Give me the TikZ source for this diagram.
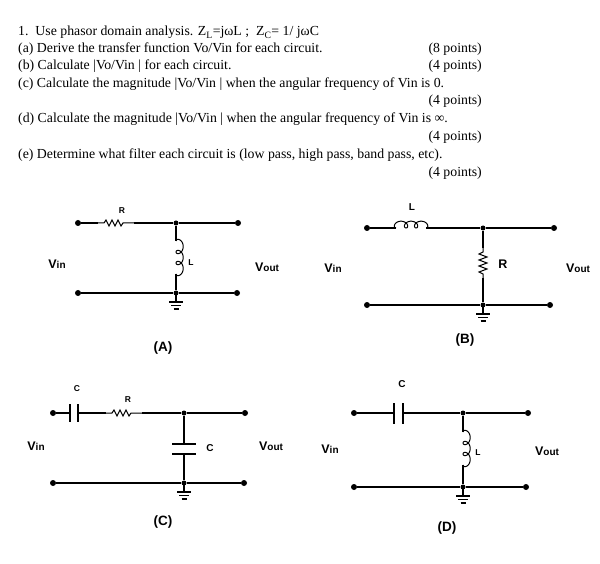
\documentclass[tikz,border=0pt]{standalone}
\usepackage{fontspec}
\setmainfont{Liberation Serif}
\newfontfamily\lab{Liberation Sans}
\begin{document}
\begin{tikzpicture}[x=1pt,y=-1pt,
  wire/.style={line width=1.3pt},
  comp/.style={line width=1pt},
  term/.style={circle,fill=black,inner sep=0pt,minimum size=6pt},
  jn/.style={circle,fill=black,inner sep=0pt,minimum size=5pt},
  txt/.style={anchor=base west,inner sep=0pt,font=\fontsize{13.8}{15}\selectfont},
  pts/.style={anchor=base east,inner sep=0pt,font=\fontsize{13.8}{15}\selectfont},
  clab/.style={inner sep=0pt,font=\lab\bfseries\fontsize{12.5}{14}\selectfont},
  small/.style={inner sep=0pt,font=\lab\bfseries\fontsize{8.5}{9}\selectfont},
  title/.style={inner sep=0pt,font=\lab\bfseries\fontsize{13.5}{15}\selectfont},
  resh/.pic={\draw[comp] (0,0)--(6,0)--(8,-3)--(11,3)--(14,-3)--(17,3)--(20,-3)--(23,3)--(25,0)--(36,0);},
  resv/.pic={\draw[comp] (0,0)--(0,4)--(-4,6)--(4,9)--(-4,12)--(4,15)--(-4,18)--(4,21)--(-4,24)--(0,26)--(0,30);},
  indh/.pic={\draw[comp] plot[domain=0:18.85,samples=150,smooth] ({1.6*\x-3.8*sin(\x r)},{-3.4*(1-cos(\x r))});},
  indv/.pic={\draw[comp] plot[domain=0:18.85,samples=150,smooth] ({3.6*(1-cos(\x r))},{1.75*\x-4*sin(\x r)});},
  gnd/.pic={\draw[comp,line width=1.2pt] (0,0)--(0,9) (-7,9)--(7,9) (-5,12.5)--(5,12.5) (-2.5,16)--(2.5,16);}
]
\useasboundingbox (0,0) rectangle (600,564);
% text
\node[txt] (t1) at (18,36) {1.\ \ Use phasor domain analysis. Z\textsubscript{L}=jωL ;\ \ Z\textsubscript{C}= 1/ jωC};
\node[txt] (t2) at (18,53) {(a) Derive the transfer function Vo/Vin for each circuit.};
\node[pts] (p2) at (482,53) {(8 points)};
\node[txt] (t3) at (18,70) {(b) Calculate |Vo/Vin | for each circuit.};
\node[pts] (p3) at (482,70) {(4 points)};
\node[txt] (t4) at (18,88) {(c) Calculate the magnitude |Vo/Vin | when the angular frequency of Vin is 0.};
\node[pts] (p4) at (482,105) {(4 points)};
\node[txt] (t5) at (18,123) {(d) Calculate the magnitude |Vo/Vin | when the angular frequency of Vin is ∞.};
\node[pts] (p5) at (482,141) {(4 points)};
\node[txt] (t6) at (18,159) {(e) Determine what filter each circuit is (low pass, high pass, band pass, etc).};
\node[pts] (p6) at (482,177) {(4 points)};

% ---------- A ----------
\node[term] (a1) at (78,223) {};
\node[jn] (a2) at (176,223) {};
\node[term] (a3) at (238,223) {};
\node[term] (a4) at (78,293) {};
\node[jn] (a5) at (176,293) {};
\node[term] (a6) at (237,293) {};
\coordinate (ar1) at (98,223); \coordinate (ar2) at (134,223);
\coordinate (al1) at (176,241); \coordinate (al2) at (176,274);
\draw[wire] (a1)--(ar1) (ar2)--(a2)--(a3) (a2)--(al1) (al2)--(a5) (a4)--(a5)--(a6);
\pic at (ar1) {resh};
\pic at (al1) {indv};
\pic at (a5) {gnd};
\node[small] (aR) at (122,211) {R};
\node[small] (aL) at (191,263) {L};
\node[clab] (aVi) at (57,264) {V\fontsize{10}{11}\selectfont in};
\node[clab] (aVo) at (267,267) {V\fontsize{10}{11}\selectfont out};
\node[title] (aT) at (163,348) {(A)};

% ---------- B ----------
\node[term] (b1) at (367,228) {};
\node[jn] (b2) at (483,228) {};
\node[term] (b3) at (554,228) {};
\node[term] (b4) at (367,305) {};
\node[jn] (b5) at (483,305) {};
\node[term] (b6) at (550,305) {};
\coordinate (bl1) at (396,228); \coordinate (bl2) at (426,228);
\coordinate (br1) at (483,248); \coordinate (br2) at (483,278);
\draw[wire] (b1)--(bl1) (bl2)--(b2)--(b3) (b2)--(br1) (br2)--(b5) (b4)--(b5)--(b6);
\pic at (bl1) {indh};
\pic at (br1) {resv};
\pic at (b5) {gnd};
\node[small,font=\lab\bfseries\fontsize{10}{11}\selectfont] (bL) at (412,207) {L};
\node[clab] (bR) at (503,264) {R};
\node[clab] (bVi) at (333,268) {V\fontsize{10}{11}\selectfont in};
\node[clab] (bVo) at (578,268) {V\fontsize{10}{11}\selectfont out};
\node[title] (bT) at (465,340) {(B)};

% ---------- C ----------
\node[term] (c1) at (53,413) {};
\node[jn] (c2) at (184,413) {};
\node[term] (c3) at (245,413) {};
\node[term] (c4) at (53,483) {};
\node[jn] (c5) at (184,483) {};
\node[term] (c6) at (244,483) {};
\coordinate (cc1) at (70,413); \coordinate (cc2) at (78,413);
\coordinate (cr1) at (106,413); \coordinate (cr2) at (142,413);
\coordinate (cv1) at (184,444); \coordinate (cv2) at (184,454);
\draw[wire] (c1)--(cc1) (cc2)--(cr1) (cr2)--(c2)--(c3) (c2)--(cv1) (cv2)--(c5) (c4)--(c5)--(c6);
\draw[comp,line width=1.4pt] (70,404)--(70,422) (78,404)--(78,422);
\pic at (cr1) {resh};
\draw[comp,line width=1.4pt] (172,444)--(196,444) (172,454)--(196,454);
\pic at (c5) {gnd};
\node[small] (cC1) at (77,389) {C};
\node[small] (cR) at (128,400) {R};
\node[small,font=\lab\bfseries\fontsize{10}{11}\selectfont] (cC2) at (210,448) {C};
\node[clab] (cVi) at (36,446) {V\fontsize{10}{11}\selectfont in};
\node[clab] (cVo) at (271,446) {V\fontsize{10}{11}\selectfont out};
\node[title] (cT) at (163,522) {(C)};

% ---------- D ----------
\node[term] (d1) at (354,413) {};
\node[jn] (d2) at (463,413) {};
\node[term] (d3) at (528,413) {};
\node[term] (d4) at (354,487) {};
\node[jn] (d5) at (463,487) {};
\node[term] (d6) at (526,487) {};
\coordinate (dc1) at (394,413); \coordinate (dc2) at (403,413);
\coordinate (dl1) at (463,432); \coordinate (dl2) at (463,465);
\draw[wire] (d1)--(dc1) (dc2)--(d2)--(d3) (d2)--(dl1) (dl2)--(d5) (d4)--(d5)--(d6);
\draw[comp,line width=1.4pt] (394,403)--(394,424) (403,403)--(403,424);
\pic at (dl1) {indv};
\pic at (d5) {gnd};
\node[small,font=\lab\bfseries\fontsize{10}{11}\selectfont] (dC) at (402,384) {C};
\node[small] (dL) at (478,453) {L};
\node[clab] (dVi) at (330,449) {V\fontsize{10}{11}\selectfont in};
\node[clab] (dVo) at (547,451) {V\fontsize{10}{11}\selectfont out};
\node[title] (dT) at (447,528) {(D)};
\end{tikzpicture}
\end{document}
